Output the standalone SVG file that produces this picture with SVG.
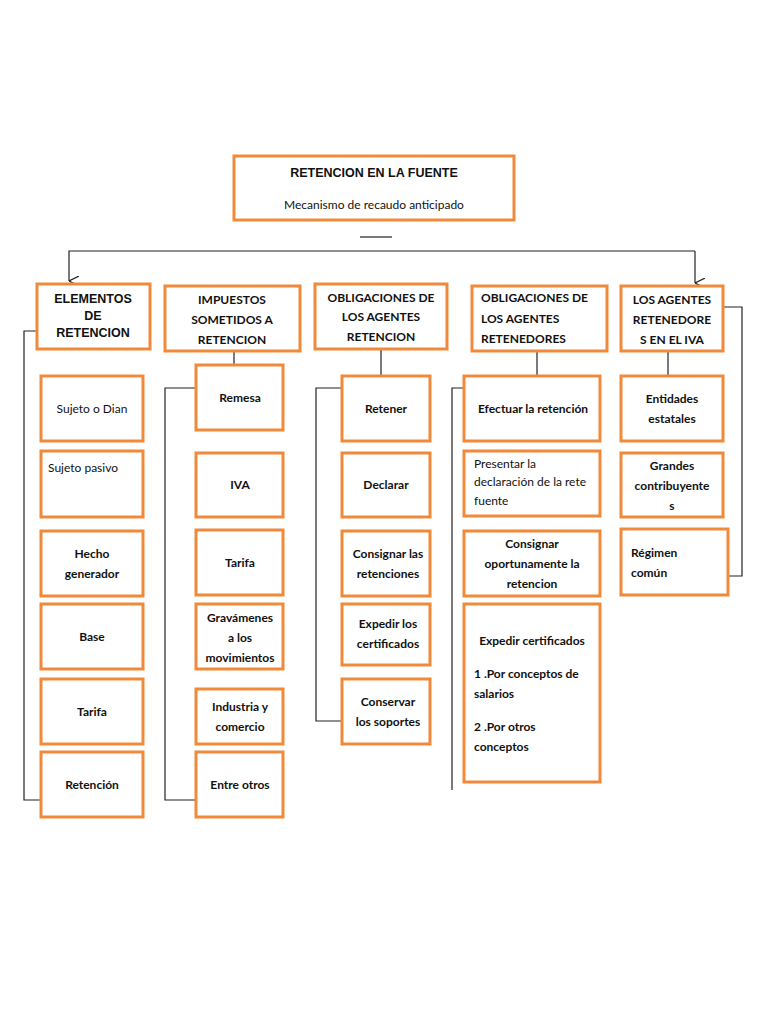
<svg xmlns="http://www.w3.org/2000/svg" width="768" height="1024" viewBox="0 0 768 1024">
<style>
rect{fill:#fff;stroke:#F0893A;stroke-width:3}
text{font-family:Lato,"Liberation Sans",sans-serif;font-size:12px;fill:#111;text-anchor:middle}
.b{font-weight:bold}
.h{font-family:"Liberation Sans",sans-serif;font-weight:bold;font-size:12.5px}
.l{text-anchor:start}
.c path{fill:none;stroke:#222;stroke-width:1.2}
</style>
<defs><marker id="a" viewBox="0 0 10 10" refX="5" refY="10" markerWidth="10" markerHeight="10" orient="auto-start-reverse" markerUnits="userSpaceOnUse"><path d="M0,0 L5,10 L10,0" fill="none" stroke="#222" stroke-width="1.2"/></marker></defs>
<g class="c">
<path d="M360,237 H392"/>
<path d="M695,251 H69 V281" marker-end="url(#a)"/>
<path d="M695,251 V283" marker-end="url(#a)"/>
<path d="M37,331 H24 V800 H41"/>
<path d="M234,351 V365"/>
<path d="M196,388 H165 V800 H196"/>
<path d="M381,349 V376"/>
<path d="M342,388 H316 V721 H342"/>
<path d="M537,351 V376"/>
<path d="M464,388 H452 V790"/>
<path d="M668,351 V376"/>
<path d="M723,307 H742 V576 H728"/>
</g>
<g id="root"><rect x="234" y="156" width="280" height="64"/><text x="374" y="177" class="h" font-size="13">RETENCION EN LA FUENTE</text><text x="374" y="209">Mecanismo de recaudo anticipado</text></g>
<g id="c1"><rect x="37" y="284" width="113" height="65"/><text x="93" y="303" class="h">ELEMENTOS</text><text x="93" y="320" class="h">DE</text><text x="93" y="337" class="h">RETENCION</text></g>
<g id="c1a"><rect x="41" y="376" width="102" height="65"/><text x="92" y="413" font-family="Liberation Sans" fill="#444">Sujeto o Dian</text></g>
<g id="c1b"><rect x="41" y="451" width="102" height="66"/><text x="48" y="472" class="l" font-size="11">Sujeto pasivo</text></g>
<g id="c1c"><rect x="41" y="531" width="102" height="65"/><text x="92" y="558" class="b">Hecho</text><text x="92" y="578" class="b">generador</text></g>
<g id="c1d"><rect x="41" y="604" width="102" height="65"/><text x="92" y="641" class="b">Base</text></g>
<g id="c1e"><rect x="41" y="679" width="102" height="65"/><text x="92" y="716" class="b">Tarifa</text></g>
<g id="c1f"><rect x="41" y="752" width="102" height="65"/><text x="92" y="789" class="b">Retención</text></g>
<g id="c2"><rect x="165" y="286" width="135" height="65"/><text x="232" y="304" class="b">IMPUESTOS</text><text x="232" y="324" class="b">SOMETIDOS A</text><text x="232" y="344" class="b">RETENCION</text></g>
<g id="c2a"><rect x="196" y="365" width="87" height="65"/><text x="240" y="402" class="b">Remesa</text></g>
<g id="c2b"><rect x="196" y="453" width="87" height="64"/><text x="240" y="489" class="b">IVA</text></g>
<g id="c2c"><rect x="196" y="530" width="87" height="65"/><text x="240" y="567" class="b">Tarifa</text></g>
<g id="c2d"><rect x="196" y="604" width="87" height="65"/><text x="240" y="622" class="b">Gravámenes</text><text x="240" y="642" class="b">a los</text><text x="240" y="662" class="b">movimientos</text></g>
<g id="c2e"><rect x="196" y="689" width="87" height="55"/><text x="240" y="711" class="b">Industria y</text><text x="240" y="731" class="b">comercio</text></g>
<g id="c2f"><rect x="196" y="752" width="87" height="65"/><text x="240" y="789" class="b">Entre otros</text></g>
<g id="c3"><rect x="315" y="284" width="132" height="65"/><text x="381" y="302" class="b">OBLIGACIONES DE</text><text x="381" y="321" class="b">LOS AGENTES</text><text x="381" y="341" class="b">RETENCION</text></g>
<g id="c3a"><rect x="342" y="376" width="88" height="65"/><text x="386" y="413" class="b">Retener</text></g>
<g id="c3b"><rect x="342" y="453" width="88" height="64"/><text x="386" y="489" class="b">Declarar</text></g>
<g id="c3c"><rect x="342" y="531" width="88" height="65"/><text x="388" y="558" class="b">Consignar las</text><text x="388" y="578" class="b">retenciones</text></g>
<g id="c3d"><rect x="342" y="604" width="88" height="61"/><text x="388" y="628" class="b">Expedir los</text><text x="388" y="648" class="b">certificados</text></g>
<g id="c3e"><rect x="342" y="679" width="88" height="65"/><text x="388" y="706" class="b">Conservar</text><text x="388" y="726" class="b">los soportes</text></g>
<g id="c4"><rect x="472" y="286" width="135" height="65"/><text x="481" y="302" class="b l">OBLIGACIONES DE</text><text x="481" y="323" class="b l">LOS AGENTES</text><text x="481" y="343" class="b l">RETENEDORES</text></g>
<g id="c4a"><rect x="464" y="376" width="136" height="65"/><text x="533" y="413" class="b">Efectuar la retención</text></g>
<g id="c4b"><rect x="464" y="451" width="136" height="65"/><text x="474" y="468" class="l" font-size="11">Presentar la</text><text x="474" y="486" class="l" font-size="11">declaración de la rete</text><text x="474" y="505" class="l" font-size="11">fuente</text></g>
<g id="c4c"><rect x="464" y="531" width="136" height="65"/><text x="532" y="548" class="b">Consignar</text><text x="532" y="568" class="b">oportunamente la</text><text x="532" y="588" class="b">retencion</text></g>
<g id="c4d"><rect x="464" y="604" width="136" height="178"/><text x="532" y="645" class="b">Expedir certificados</text><text x="474" y="678" class="b l">1 .Por conceptos de</text><text x="474" y="698" class="b l">salarios</text><text x="474" y="731" class="b l">2 .Por otros</text><text x="474" y="751" class="b l">conceptos</text></g>
<g id="c5"><rect x="621" y="286" width="102" height="65"/><text x="672" y="304" class="b">LOS AGENTES</text><text x="672" y="324" class="b">RETENEDORE</text><text x="672" y="344" class="b">S EN EL IVA</text></g>
<g id="c5a"><rect x="621" y="376" width="102" height="65"/><text x="672" y="403" class="b">Entidades</text><text x="672" y="423" class="b">estatales</text></g>
<g id="c5b"><rect x="621" y="453" width="102" height="64"/><text x="672" y="470" class="b">Grandes</text><text x="672" y="490" class="b">contribuyente</text><text x="672" y="510" class="b">s</text></g>
<g id="c5c"><rect x="621" y="529" width="107" height="66"/><text x="631" y="557" class="b l">Régimen</text><text x="631" y="577" class="b l">común</text></g>
</svg>
